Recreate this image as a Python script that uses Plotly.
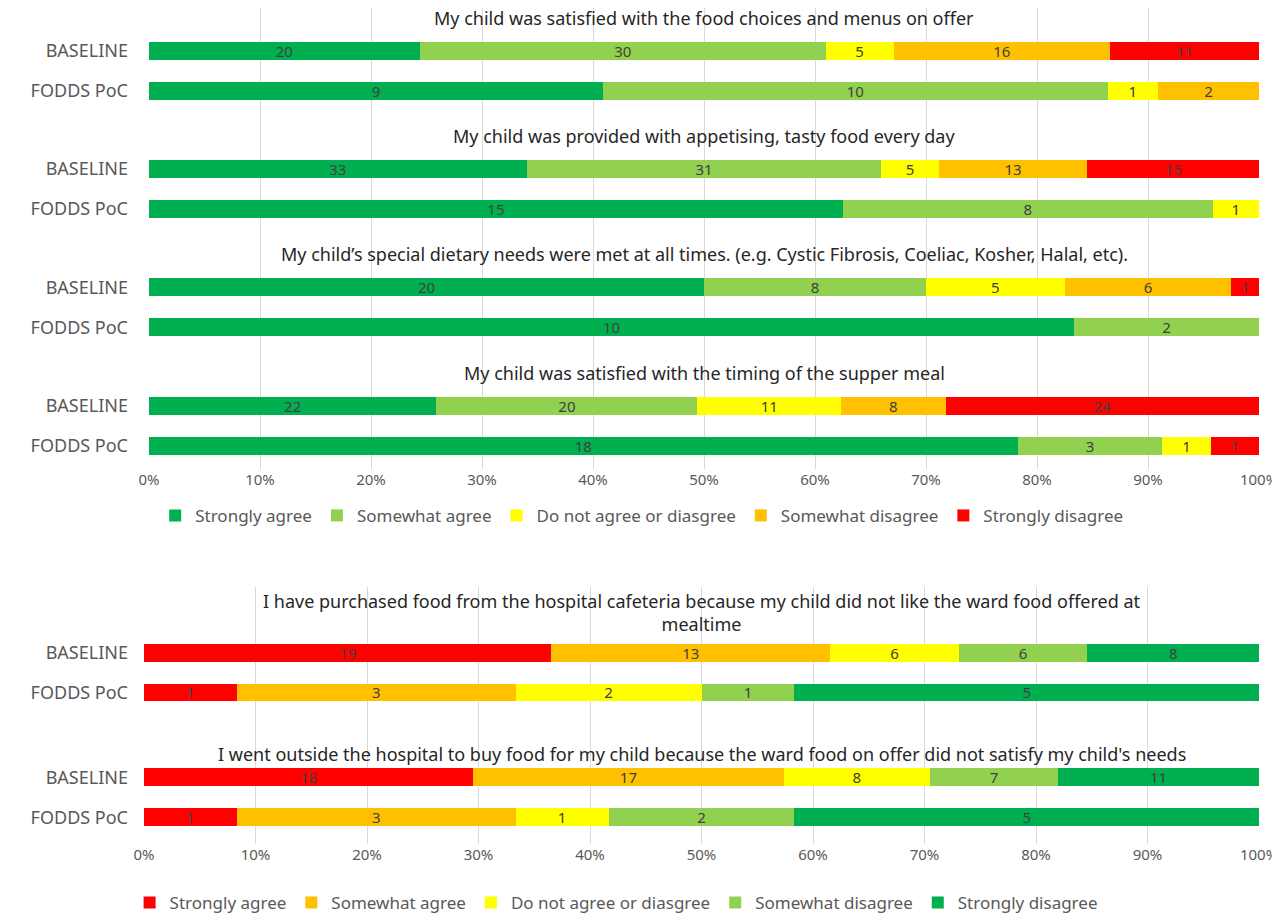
import plotly.graph_objects as go

rows = ["BASELINE", "FODDS PoC"]
top_titles = [
    "My child was satisfied with the food choices and menus on offer",
    "My child was provided with appetising, tasty food every day",
    "My child’s special dietary needs were met at all times. (e.g. Cystic Fibrosis, Coeliac, Kosher, Halal, etc).",
    "My child was satisfied with the timing of the supper meal",
]
top_cats = ["Strongly agree", "Somewhat agree", "Do not agree or diasgree", "Somewhat disagree", "Strongly disagree"]
top_colors = ["#00B050", "#92D050", "#FFFF00", "#FFC000", "#FF0000"]
top_values = [
    [[20, 30, 5, 16, 11], [9, 10, 1, 2, 0]],
    [[33, 31, 5, 13, 15], [15, 8, 1, 0, 0]],
    [[20, 8, 5, 6, 1], [10, 2, 0, 0, 0]],
    [[22, 20, 11, 8, 24], [18, 3, 1, 0, 1]],
]
bot_titles = [
    "I have purchased food from the hospital cafeteria because my child did not like the ward food offered at<br>mealtime",
    "I went outside the hospital to buy food for my child because the ward food on offer did not satisfy my child's needs",
]
bot_cats = ["Strongly agree", "Somewhat agree", "Do not agree or diasgree", "Somewhat disagree", "Strongly disagree"]
bot_colors = ["#FF0000", "#FFC000", "#FFFF00", "#92D050", "#00B050"]
bot_values = [
    [[19, 13, 6, 6, 8], [1, 3, 2, 1, 5]],
    [[18, 17, 8, 7, 11], [1, 3, 1, 2, 5]],
]
ticks = list(range(0, 101, 10))
tick_text = [f"{t}%" for t in ticks]

H = 913
fig = go.Figure()

def add_panel(values, cats, colors, xa, ya, legend, y0, gstep):
    ys, ylab = [], []
    for g, grp in enumerate(values):
        for r in range(2):
            ys.append(y0 + g * gstep + r * 40)
            ylab.append(rows[r])
    for c, cat in enumerate(cats):
        xs, txt, yy = [], [], []
        i = 0
        for grp in values:
            for row in grp:
                tot = sum(row)
                xs.append(row[c] / tot * 100)
                txt.append(str(row[c]) if row[c] else "")
                yy.append(ys[i]); i += 1
        fig.add_trace(go.Bar(
            x=xs, y=yy, orientation="h", name=cat, marker_color=colors[c],
            marker_line_width=0, width=18, text=txt, textposition="inside", textangle=0,
            insidetextanchor="middle", textfont=dict(color="#404040", size=15),
            xaxis=xa, yaxis=ya, legend=legend, hoverinfo="skip"))
    return ys, ylab

ys1, yl1 = add_panel(top_values, top_cats, top_colors, "x", "y", "legend", 43, 118.5)
ys2, yl2 = add_panel(bot_values, bot_cats, bot_colors, "x2", "y2", "legend2", 646, 125)

axx = dict(range=[0, 100], tickvals=ticks, ticktext=tick_text, showgrid=True,
           gridcolor="#D9D9D9", zeroline=False, showline=False, automargin=False,
           tickfont=dict(size=15, color="#595959"), fixedrange=True)
axy = dict(tickfont=dict(size=18, color="#595959"), showgrid=False, zeroline=False,
           automargin=False, ticklabelstandoff=20)
fig.update_layout(
    width=1280, height=913, barmode="stack", plot_bgcolor="white", paper_bgcolor="white",
    margin=dict(l=0, r=0, t=0, b=0),
    font=dict(family="Noto Sans, sans-serif"),
    uniformtext=dict(minsize=15, mode="show"),
    xaxis=dict(domain=[141 / 1280, 1251 / 1280], anchor="y", **axx),
    yaxis=dict(domain=[1 - 462 / H, 1], range=[462, 0], tickvals=ys1, ticktext=yl1, **axy),
    xaxis2=dict(domain=[136 / 1280, 1251 / 1280], anchor="y2", **axx),
    yaxis2=dict(domain=[1 - 838 / H, 1 - 580 / H], range=[838, 580], tickvals=ys2, ticktext=yl2, **axy),
    legend=dict(orientation="h", x=0.115, y=1 - 509 / H, yanchor="middle", xanchor="left",
                font=dict(size=17, color="#595959"), traceorder="normal"),
    legend2=dict(orientation="h", x=0.095, y=1 - 897 / H, yanchor="middle", xanchor="left",
                 font=dict(size=17, color="#595959"), traceorder="normal"),
)
tcx = (141 + 1251) / 2 / 1280
for g, t in enumerate(top_titles):
    py = 10 + g * 118.5
    fig.add_annotation(text=t, x=tcx, y=1 - py / H, xref="paper", yref="paper",
                       showarrow=False, font=dict(size=18, color="#262626"), yanchor="middle")
bcx = (136 + 1251) / 2 / 1280
for g, t in enumerate(bot_titles):
    py = 606 if g == 0 else 748
    fig.add_annotation(text=t, x=bcx, y=1 - py / H, xref="paper", yref="paper",
                       showarrow=False, font=dict(size=18, color="#262626"), yanchor="middle")

fig.write_html("out.html")
